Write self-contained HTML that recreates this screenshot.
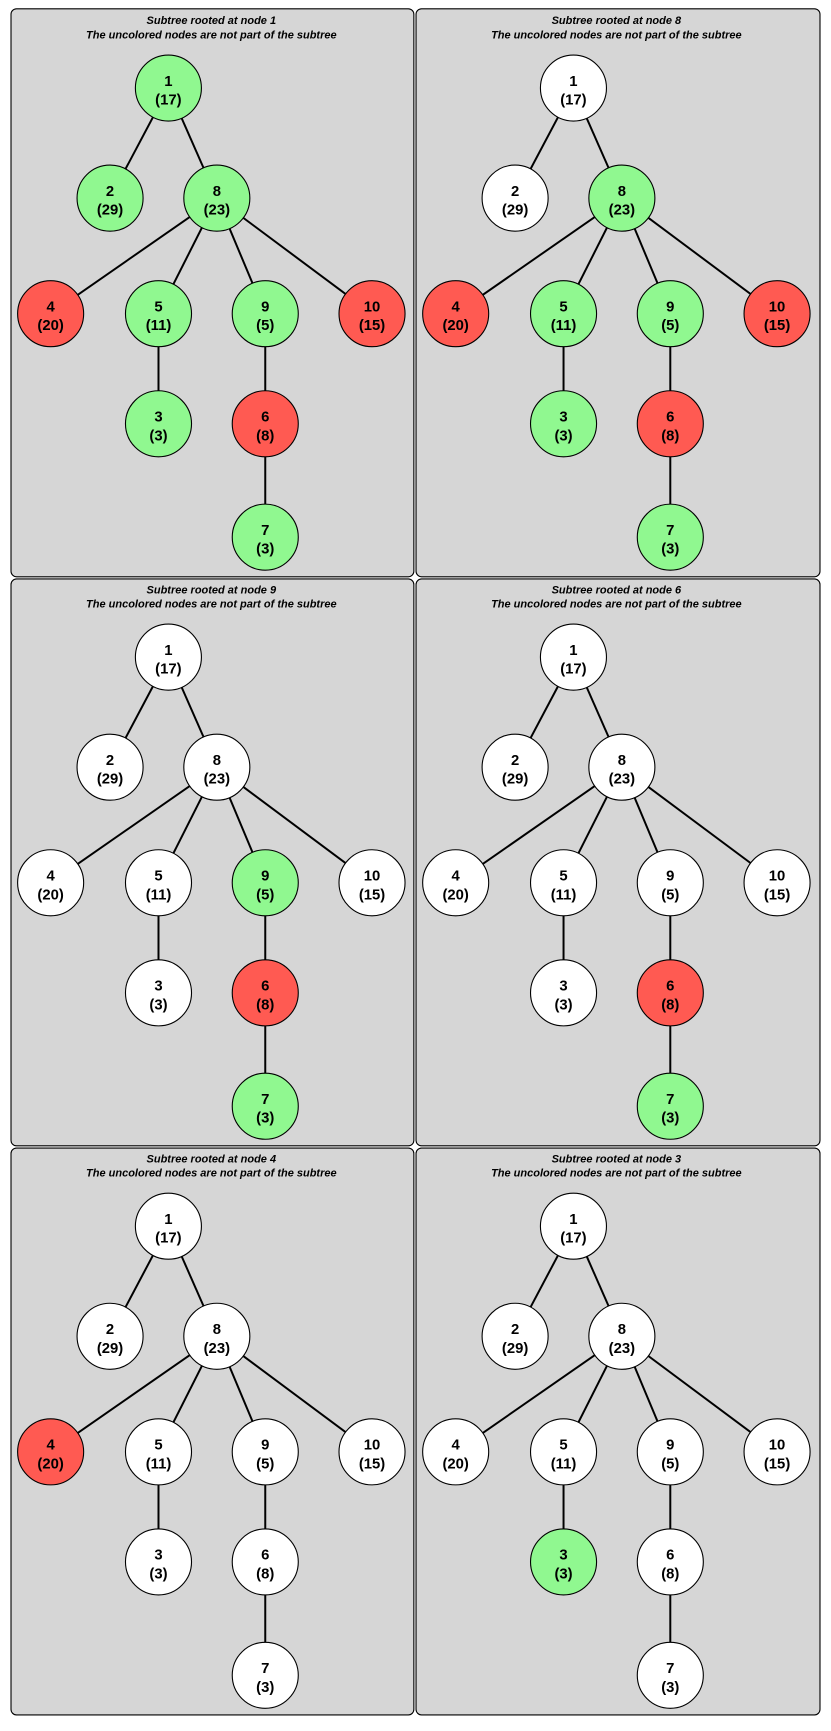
<!DOCTYPE html>
<html><head><meta charset="utf-8">
<style>
html,body{margin:0;padding:0;background:#fff;}
svg{display:block;}
.t{font-family:"Liberation Sans",sans-serif;font-weight:bold;font-style:italic;font-size:10px;text-anchor:middle;fill:#000;}
.n{font-family:"Liberation Sans",sans-serif;font-weight:bold;font-size:13.5px;text-anchor:middle;fill:#000;}
.w{fill:#fff;stroke:#000;stroke-width:1;}
.g{fill:#90f890;stroke:#000;stroke-width:1;}
.r{fill:#ff5a52;stroke:#000;stroke-width:1;}
</style></head><body>
<svg width="831" height="1731" viewBox="0 0 755 1572.6" preserveAspectRatio="none" xmlns="http://www.w3.org/2000/svg">
<defs>
<g id="edges" stroke="#000" stroke-width="1.8">
<line x1="153" y1="80" x2="100" y2="180"/>
<line x1="153" y1="80" x2="197" y2="180"/>
<line x1="197" y1="180" x2="46" y2="285"/>
<line x1="197" y1="180" x2="144" y2="285"/>
<line x1="197" y1="180" x2="241" y2="285"/>
<line x1="197" y1="180" x2="338" y2="285"/>
<line x1="144" y1="285" x2="144" y2="385"/>
<line x1="241" y1="285" x2="241" y2="385"/>
<line x1="241" y1="385" x2="241" y2="488"/>
</g>
</defs>

<!-- Panel 1 -->
<g transform="translate(0,0)">
<rect x="10" y="8" width="366" height="516" rx="5" fill="#d6d6d6" stroke="#000" stroke-width="1"/>
<text class="t" x="192" y="22">Subtree rooted at node 1</text>
<text class="t" x="192" y="35">The uncolored nodes are not part of the subtree</text>
<use href="#edges"/>
<circle class="g" cx="153" cy="80" r="30"/><text class="n" x="153" y="78">1</text><text class="n" x="153" y="95">(17)</text>
<circle class="g" cx="100" cy="180" r="30"/><text class="n" x="100" y="178">2</text><text class="n" x="100" y="195">(29)</text>
<circle class="g" cx="197" cy="180" r="30"/><text class="n" x="197" y="178">8</text><text class="n" x="197" y="195">(23)</text>
<circle class="r" cx="46" cy="285" r="30"/><text class="n" x="46" y="283">4</text><text class="n" x="46" y="300">(20)</text>
<circle class="g" cx="144" cy="285" r="30"/><text class="n" x="144" y="283">5</text><text class="n" x="144" y="300">(11)</text>
<circle class="g" cx="241" cy="285" r="30"/><text class="n" x="241" y="283">9</text><text class="n" x="241" y="300">(5)</text>
<circle class="r" cx="338" cy="285" r="30"/><text class="n" x="338" y="283">10</text><text class="n" x="338" y="300">(15)</text>
<circle class="g" cx="144" cy="385" r="30"/><text class="n" x="144" y="383">3</text><text class="n" x="144" y="400">(3)</text>
<circle class="r" cx="241" cy="385" r="30"/><text class="n" x="241" y="383">6</text><text class="n" x="241" y="400">(8)</text>
<circle class="g" cx="241" cy="488" r="30"/><text class="n" x="241" y="486">7</text><text class="n" x="241" y="503">(3)</text>
</g>

<!-- Panel 2 -->
<g transform="translate(368,0)">
<rect x="10" y="8" width="367" height="516" rx="5" fill="#d6d6d6" stroke="#000" stroke-width="1"/>
<text class="t" x="192" y="22">Subtree rooted at node 8</text>
<text class="t" x="192" y="35">The uncolored nodes are not part of the subtree</text>
<use href="#edges"/>
<circle class="w" cx="153" cy="80" r="30"/><text class="n" x="153" y="78">1</text><text class="n" x="153" y="95">(17)</text>
<circle class="w" cx="100" cy="180" r="30"/><text class="n" x="100" y="178">2</text><text class="n" x="100" y="195">(29)</text>
<circle class="g" cx="197" cy="180" r="30"/><text class="n" x="197" y="178">8</text><text class="n" x="197" y="195">(23)</text>
<circle class="r" cx="46" cy="285" r="30"/><text class="n" x="46" y="283">4</text><text class="n" x="46" y="300">(20)</text>
<circle class="g" cx="144" cy="285" r="30"/><text class="n" x="144" y="283">5</text><text class="n" x="144" y="300">(11)</text>
<circle class="g" cx="241" cy="285" r="30"/><text class="n" x="241" y="283">9</text><text class="n" x="241" y="300">(5)</text>
<circle class="r" cx="338" cy="285" r="30"/><text class="n" x="338" y="283">10</text><text class="n" x="338" y="300">(15)</text>
<circle class="g" cx="144" cy="385" r="30"/><text class="n" x="144" y="383">3</text><text class="n" x="144" y="400">(3)</text>
<circle class="r" cx="241" cy="385" r="30"/><text class="n" x="241" y="383">6</text><text class="n" x="241" y="400">(8)</text>
<circle class="g" cx="241" cy="488" r="30"/><text class="n" x="241" y="486">7</text><text class="n" x="241" y="503">(3)</text>
</g>

<!-- Panel 3 -->
<g transform="translate(0,517)">
<rect x="10" y="9" width="366" height="515" rx="5" fill="#d6d6d6" stroke="#000" stroke-width="1"/>
<text class="t" x="192" y="22">Subtree rooted at node 9</text>
<text class="t" x="192" y="35">The uncolored nodes are not part of the subtree</text>
<use href="#edges"/>
<circle class="w" cx="153" cy="80" r="30"/><text class="n" x="153" y="78">1</text><text class="n" x="153" y="95">(17)</text>
<circle class="w" cx="100" cy="180" r="30"/><text class="n" x="100" y="178">2</text><text class="n" x="100" y="195">(29)</text>
<circle class="w" cx="197" cy="180" r="30"/><text class="n" x="197" y="178">8</text><text class="n" x="197" y="195">(23)</text>
<circle class="w" cx="46" cy="285" r="30"/><text class="n" x="46" y="283">4</text><text class="n" x="46" y="300">(20)</text>
<circle class="w" cx="144" cy="285" r="30"/><text class="n" x="144" y="283">5</text><text class="n" x="144" y="300">(11)</text>
<circle class="g" cx="241" cy="285" r="30"/><text class="n" x="241" y="283">9</text><text class="n" x="241" y="300">(5)</text>
<circle class="w" cx="338" cy="285" r="30"/><text class="n" x="338" y="283">10</text><text class="n" x="338" y="300">(15)</text>
<circle class="w" cx="144" cy="385" r="30"/><text class="n" x="144" y="383">3</text><text class="n" x="144" y="400">(3)</text>
<circle class="r" cx="241" cy="385" r="30"/><text class="n" x="241" y="383">6</text><text class="n" x="241" y="400">(8)</text>
<circle class="g" cx="241" cy="488" r="30"/><text class="n" x="241" y="486">7</text><text class="n" x="241" y="503">(3)</text>
</g>

<!-- Panel 4 -->
<g transform="translate(368,517)">
<rect x="10" y="9" width="367" height="515" rx="5" fill="#d6d6d6" stroke="#000" stroke-width="1"/>
<text class="t" x="192" y="22">Subtree rooted at node 6</text>
<text class="t" x="192" y="35">The uncolored nodes are not part of the subtree</text>
<use href="#edges"/>
<circle class="w" cx="153" cy="80" r="30"/><text class="n" x="153" y="78">1</text><text class="n" x="153" y="95">(17)</text>
<circle class="w" cx="100" cy="180" r="30"/><text class="n" x="100" y="178">2</text><text class="n" x="100" y="195">(29)</text>
<circle class="w" cx="197" cy="180" r="30"/><text class="n" x="197" y="178">8</text><text class="n" x="197" y="195">(23)</text>
<circle class="w" cx="46" cy="285" r="30"/><text class="n" x="46" y="283">4</text><text class="n" x="46" y="300">(20)</text>
<circle class="w" cx="144" cy="285" r="30"/><text class="n" x="144" y="283">5</text><text class="n" x="144" y="300">(11)</text>
<circle class="w" cx="241" cy="285" r="30"/><text class="n" x="241" y="283">9</text><text class="n" x="241" y="300">(5)</text>
<circle class="w" cx="338" cy="285" r="30"/><text class="n" x="338" y="283">10</text><text class="n" x="338" y="300">(15)</text>
<circle class="w" cx="144" cy="385" r="30"/><text class="n" x="144" y="383">3</text><text class="n" x="144" y="400">(3)</text>
<circle class="r" cx="241" cy="385" r="30"/><text class="n" x="241" y="383">6</text><text class="n" x="241" y="400">(8)</text>
<circle class="g" cx="241" cy="488" r="30"/><text class="n" x="241" y="486">7</text><text class="n" x="241" y="503">(3)</text>
</g>

<!-- Panel 5 -->
<g transform="translate(0,1034)">
<rect x="10" y="9" width="366" height="515" rx="5" fill="#d6d6d6" stroke="#000" stroke-width="1"/>
<text class="t" x="192" y="22">Subtree rooted at node 4</text>
<text class="t" x="192" y="35">The uncolored nodes are not part of the subtree</text>
<use href="#edges"/>
<circle class="w" cx="153" cy="80" r="30"/><text class="n" x="153" y="78">1</text><text class="n" x="153" y="95">(17)</text>
<circle class="w" cx="100" cy="180" r="30"/><text class="n" x="100" y="178">2</text><text class="n" x="100" y="195">(29)</text>
<circle class="w" cx="197" cy="180" r="30"/><text class="n" x="197" y="178">8</text><text class="n" x="197" y="195">(23)</text>
<circle class="r" cx="46" cy="285" r="30"/><text class="n" x="46" y="283">4</text><text class="n" x="46" y="300">(20)</text>
<circle class="w" cx="144" cy="285" r="30"/><text class="n" x="144" y="283">5</text><text class="n" x="144" y="300">(11)</text>
<circle class="w" cx="241" cy="285" r="30"/><text class="n" x="241" y="283">9</text><text class="n" x="241" y="300">(5)</text>
<circle class="w" cx="338" cy="285" r="30"/><text class="n" x="338" y="283">10</text><text class="n" x="338" y="300">(15)</text>
<circle class="w" cx="144" cy="385" r="30"/><text class="n" x="144" y="383">3</text><text class="n" x="144" y="400">(3)</text>
<circle class="w" cx="241" cy="385" r="30"/><text class="n" x="241" y="383">6</text><text class="n" x="241" y="400">(8)</text>
<circle class="w" cx="241" cy="488" r="30"/><text class="n" x="241" y="486">7</text><text class="n" x="241" y="503">(3)</text>
</g>

<!-- Panel 6 -->
<g transform="translate(368,1034)">
<rect x="10" y="9" width="367" height="515" rx="5" fill="#d6d6d6" stroke="#000" stroke-width="1"/>
<text class="t" x="192" y="22">Subtree rooted at node 3</text>
<text class="t" x="192" y="35">The uncolored nodes are not part of the subtree</text>
<use href="#edges"/>
<circle class="w" cx="153" cy="80" r="30"/><text class="n" x="153" y="78">1</text><text class="n" x="153" y="95">(17)</text>
<circle class="w" cx="100" cy="180" r="30"/><text class="n" x="100" y="178">2</text><text class="n" x="100" y="195">(29)</text>
<circle class="w" cx="197" cy="180" r="30"/><text class="n" x="197" y="178">8</text><text class="n" x="197" y="195">(23)</text>
<circle class="w" cx="46" cy="285" r="30"/><text class="n" x="46" y="283">4</text><text class="n" x="46" y="300">(20)</text>
<circle class="w" cx="144" cy="285" r="30"/><text class="n" x="144" y="283">5</text><text class="n" x="144" y="300">(11)</text>
<circle class="w" cx="241" cy="285" r="30"/><text class="n" x="241" y="283">9</text><text class="n" x="241" y="300">(5)</text>
<circle class="w" cx="338" cy="285" r="30"/><text class="n" x="338" y="283">10</text><text class="n" x="338" y="300">(15)</text>
<circle class="g" cx="144" cy="385" r="30"/><text class="n" x="144" y="383">3</text><text class="n" x="144" y="400">(3)</text>
<circle class="w" cx="241" cy="385" r="30"/><text class="n" x="241" y="383">6</text><text class="n" x="241" y="400">(8)</text>
<circle class="w" cx="241" cy="488" r="30"/><text class="n" x="241" y="486">7</text><text class="n" x="241" y="503">(3)</text>
</g>
</svg>
</body></html>
